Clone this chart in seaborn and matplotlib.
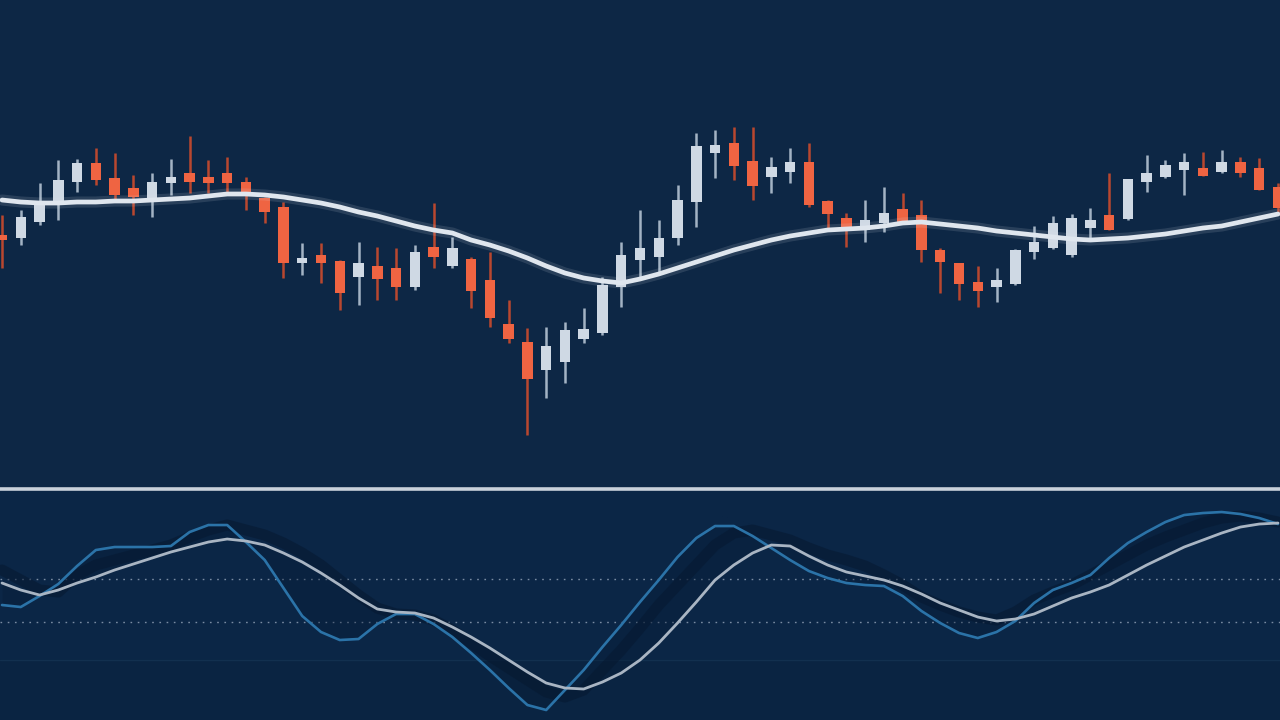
import numpy as np
import pandas as pd
import matplotlib
matplotlib.use("Agg")
import matplotlib.pyplot as plt
from matplotlib.lines import Line2D
import seaborn as sns

# ---------------- data ----------------
opens = [265, 262, 278, 298, 318, 337, 322, 312, 302, 317,
         327, 323, 327, 318, 302, 293, 237, 245, 239, 223,
         234, 232, 213, 253, 234, 241, 220, 176, 158, 130,
         138, 161, 167, 213, 240, 243, 262, 298, 347, 357,
         339, 323, 328, 338, 299, 282, 270, 277, 291, 285,
         250, 237, 218, 213, 216, 248, 252, 245, 272, 285,
         281, 318, 323, 330, 332, 328, 338, 332, 313]
closes = [260, 283, 297, 320, 337, 320, 305, 303, 318, 323,
          318, 317, 317, 307, 288, 237, 242, 237, 207, 237,
          221, 213, 248, 243, 252, 209, 182, 161, 121, 154,
          170, 171, 215, 245, 252, 262, 300, 354, 355, 334,
          314, 333, 338, 295, 286, 270, 280, 287, 277, 250,
          238, 216, 209, 220, 250, 258, 277, 282, 280, 270,
          321, 327, 335, 338, 324, 338, 327, 310, 292]
highs = [285, 290, 317, 340, 341, 352, 347, 325, 327, 341,
         364, 340, 343, 323, 303, 298, 257, 257, 240, 258,
         253, 252, 255, 297, 263, 243, 248, 200, 172, 173,
         178, 192, 223, 258, 290, 280, 315, 367, 370, 373,
         373, 343, 352, 357, 300, 287, 300, 313, 307, 300,
         252, 237, 234, 232, 251, 274, 284, 286, 292, 327,
         321, 345, 340, 347, 348, 350, 343, 342, 317]
lows = [232, 255, 275, 280, 308, 315, 300, 285, 283, 305,
        307, 307, 307, 290, 277, 222, 225, 217, 190, 195,
        200, 200, 210, 232, 232, 192, 173, 157, 65, 102,
        117, 157, 165, 193, 223, 227, 255, 273, 322, 320,
        300, 307, 317, 293, 270, 253, 258, 268, 277, 238,
        207, 200, 193, 198, 215, 241, 251, 243, 262, 270,
        280, 308, 322, 305, 324, 327, 323, 310, 285]
moving_avg = [300, 298, 297, 297, 298, 298, 299, 299, 300, 301,
              302, 304, 306, 306, 305, 303, 300, 297, 293, 288,
              284, 279, 274, 270, 267, 260, 255, 249, 242, 234,
              227, 222, 219, 217, 221, 226, 232, 238, 244, 250,
              255, 260, 264, 267, 270, 271, 272, 274, 277, 278,
              276, 274, 272, 269, 267, 265, 263, 261, 260, 261,
              262, 264, 266, 269, 272, 274, 278, 282, 286]
osc_fast = [115, 113, 124, 136, 154, 170, 173, 173, 173, 174,
            188, 195, 195, 178, 160, 132, 104, 88, 80, 81,
            96, 106, 106, 96, 83, 67, 50, 32, 15, 10,
            30, 50, 73, 95, 118, 140, 163, 182, 194, 194,
            184, 172, 160, 149, 142, 137, 135, 134, 124, 109,
            97, 87, 82, 88, 99, 117, 130, 137, 145, 162,
            177, 188, 198, 205, 207, 208, 206, 202, 196]
osc_slow = [137, 130, 125, 130, 137, 143, 150, 156, 162, 168,
            173, 178, 181, 179, 175, 167, 158, 147, 135, 122,
            111, 108, 107, 102, 93, 83, 72, 60, 48, 37,
            32, 31, 38, 47, 60, 77, 97, 118, 140, 155,
            167, 175, 174, 164, 155, 148, 144, 140, 134, 126,
            117, 110, 103, 99, 101, 106, 114, 122, 128, 135,
            145, 155, 164, 173, 180, 187, 193, 196, 197]
osc_signal = [150, 140, 130, 128, 145, 155, 160, 165, 170, 175,
              183, 190, 195, 190, 185, 177, 167, 155, 140, 125,
              112, 106, 105, 100, 90, 77, 64, 52, 40, 28,
              23, 30, 50, 70, 92, 115, 135, 155, 175, 187,
              190, 185, 180, 172, 165, 160, 154, 145, 135, 123,
              115, 108, 103, 100, 108, 120, 128, 135, 145, 155,
              165, 175, 183, 190, 197, 202, 204, 202, 198]
osc_levels = [141, 98]
baseline_level = 60

# ---------------- style ----------------
BG_TOP = "#0d2745"
BG_BOT = "#0b2646"
BULL_BODY, BULL_WICK = "#cfd9e4", "#a3b3c4"
BEAR_BODY, BEAR_WICK = "#ef6442", "#b9472f"

sns.set_theme(style="dark", rc={"axes.facecolor": BG_TOP, "figure.facecolor": BG_TOP})

n = len(opens)
idx = np.arange(n)
df = pd.DataFrame({"t": idx, "open": opens, "close": closes, "high": highs,
                   "low": lows, "ma": moving_avg, "fast": osc_fast,
                   "slow": osc_slow, "signal": osc_signal})
bull = df["close"] >= df["open"]

fig = plt.figure(figsize=(12.8, 7.2), dpi=100)
ax = fig.add_axes([0, 0.3222, 1, 0.6778])
ax2 = fig.add_axes([0, 0, 1, 0.3194])
ax.set_facecolor(BG_TOP)
ax2.set_facecolor(BG_BOT)

pad = 2 / 18.76
xlim = (-pad, n - 1 + pad)

# candles
wick_cols = np.where(bull, BULL_WICK, BEAR_WICK)
body_cols = np.where(bull, BULL_BODY, BEAR_BODY)
ax.vlines(df["t"], df["low"], df["high"], colors=wick_cols, linewidth=1.8, zorder=2)
body_bottom = np.minimum(df["open"], df["close"])
body_height = np.abs(df["close"] - df["open"]).clip(lower=2)
ax.bar(df["t"], body_height, bottom=body_bottom, width=0.56, color=body_cols,
       linewidth=0, zorder=3)

# moving average with glow
sns.lineplot(data=df, x="t", y="ma", ax=ax, color="#dfe6ee", linewidth=8, alpha=0.13, zorder=4)
sns.lineplot(data=df, x="t", y="ma", ax=ax, color="#dfe6ee", linewidth=3.4, zorder=5)

ax.set_xlim(*xlim)
ax.set_ylim(12, 500)

# oscillator panel
ax2.axhspan(0, baseline_level, color="#0a2442", zorder=0)
ax2.axhline(baseline_level, color="#12304f", linewidth=1.0, zorder=1)
for lv in osc_levels:
    ax2.axhline(lv, color="#7a8ca2", linewidth=1.0, linestyle=(0, (1.2, 4.0)), zorder=1)
ax2.fill_between(df["t"], df["fast"], df["slow"], color="#081c35", alpha=0.35, linewidth=0, zorder=2)
sns.lineplot(data=df, x="t", y="signal", ax=ax2, color="#061830", linewidth=8, alpha=0.55,
             zorder=2.5)
sns.lineplot(data=df, x="t", y="fast", ax=ax2, color="#2b73a8", linewidth=1.9, zorder=3)
sns.lineplot(data=df, x="t", y="slow", ax=ax2, color="#a9b5c3", linewidth=2.0, zorder=4)
ax2.set_xlim(*xlim)
ax2.set_ylim(0, 230)

for a in (ax, ax2):
    a.set_xticks([])
    a.set_yticks([])
    a.set_xlabel("")
    a.set_ylabel("")
    for s in a.spines.values():
        s.set_visible(False)
    a.grid(False)

# separator
fig.add_artist(Line2D([0, 1], [0.3208, 0.3208], transform=fig.transFigure,
                      color="#c9d1db", linewidth=2.6))

fig.savefig("out.png", dpi=100, facecolor=BG_TOP)
